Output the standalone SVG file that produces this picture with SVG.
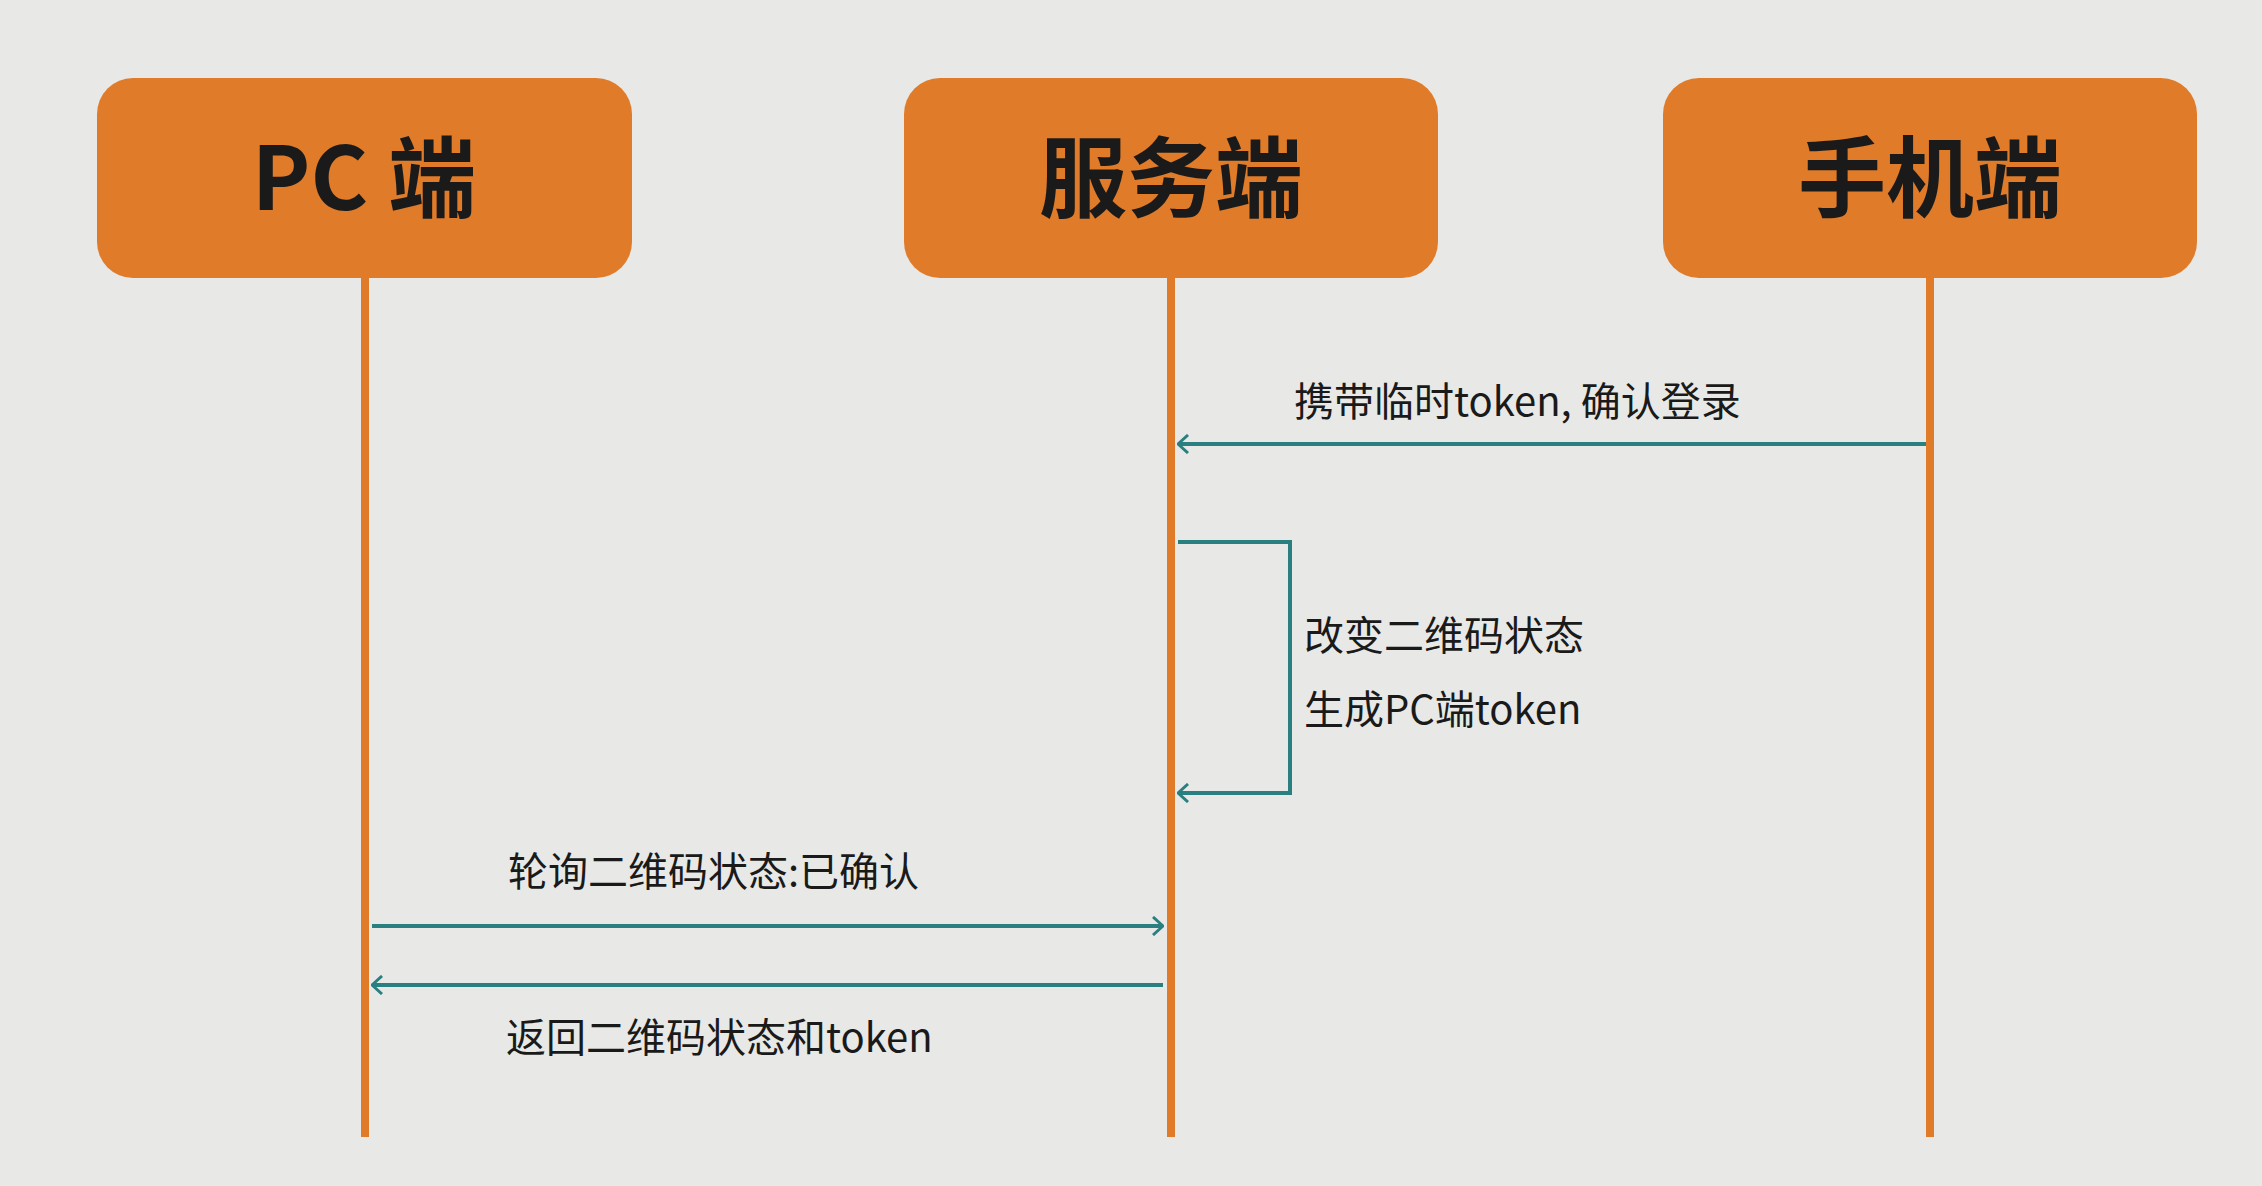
<svg xmlns="http://www.w3.org/2000/svg" width="2262" height="1186" viewBox="0 0 2262 1186">
<style>
.box{fill:#e07b2a}
.life{stroke:#e07b2a;stroke-width:8}
.title{font-family:"Noto Sans CJK SC","Liberation Sans",sans-serif;font-weight:bold;font-size:88px;fill:#1a1a1a;text-anchor:middle}
.lbl{font-family:"Noto Sans CJK SC","Liberation Sans",sans-serif;font-size:40px;fill:#1a1a1a}
.msg{stroke:#2a7f80;stroke-width:4;fill:none}
</style>
<defs>
<marker id="ah" viewBox="0 0 12 20" refX="11" refY="10" markerWidth="12" markerHeight="20" markerUnits="userSpaceOnUse" orient="auto">
<path d="M1 1 L11 10 L1 19" fill="none" stroke="#2a7f80" stroke-width="3"/>
</marker>
</defs>
<rect width="2262" height="1186" fill="#e8e9e7"/>
<g id="pc"><line class="life" x1="365" y1="270" x2="365" y2="1137"/><rect class="box" x="97" y="78" width="535" height="200" rx="36"/><text class="title" x="364" y="210">PC 端</text></g>
<g id="server"><line class="life" x1="1171" y1="270" x2="1171" y2="1137"/><rect class="box" x="904" y="78" width="534" height="200" rx="36"/><text class="title" x="1171" y="210">服务端</text></g>
<g id="phone"><line class="life" x1="1930" y1="270" x2="1930" y2="1137"/><rect class="box" x="1663" y="78" width="534" height="200" rx="36"/><text class="title" x="1930" y="210">手机端</text></g>
<g id="connectors">
<line class="msg" x1="1926" y1="444" x2="1178" y2="444" marker-end="url(#ah)"/>
<polyline class="msg" points="1178,542 1290,542 1290,793 1178,793" marker-end="url(#ah)"/>
<line class="msg" x1="372" y1="926" x2="1163" y2="926" marker-end="url(#ah)"/>
<line class="msg" x1="1163" y1="985" x2="372" y2="985" marker-end="url(#ah)"/>
<text class="lbl" x="1294" y="416">携带临时token, 确认登录</text>
<text class="lbl" x="1304" y="650">改变二维码状态</text>
<text class="lbl" x="1304" y="724">生成PC端token</text>
<text class="lbl" x="508" y="886">轮询二维码状态:已确认</text>
<text class="lbl" x="506" y="1052">返回二维码状态和token</text>
</g>
</svg>
